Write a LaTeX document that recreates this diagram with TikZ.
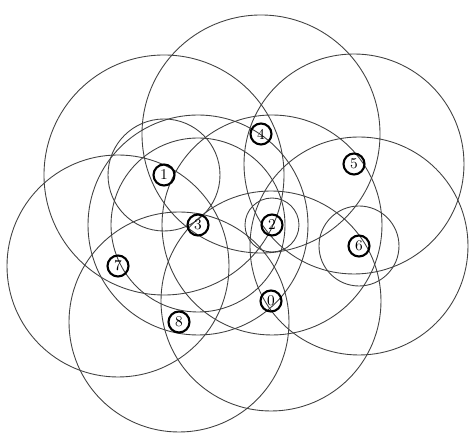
\documentclass[tikz,border=0pt]{standalone}
\begin{document}
\begin{tikzpicture}[x=0.02cm,y=-0.02cm,
  rangecirc/.style={draw=black!75,line width=0.5pt},
  sensor/.style={circle,draw=black,line width=1.2pt,minimum size=0.42cm,inner sep=0pt,font=\fontsize{8.5}{8.5}\selectfont}]
\useasboundingbox (0,0) rectangle (474,438);
% positions
\coordinate (p0) at (271,301);
\coordinate (p1) at (164,175);
\coordinate (p2) at (272,225);
\coordinate (p3) at (198,225);
\coordinate (p4) at (261,134);
\coordinate (p5) at (354,164);
\coordinate (p6) at (359,246);
\coordinate (p7) at (118,266);
\coordinate (p8) at (179,322);
% range circles
\draw[rangecirc] (p0) circle[radius=110];
\draw[rangecirc] (p1) circle[radius=120];
\draw[rangecirc] (p1) circle[radius=56];
\draw[rangecirc] (p2) circle[radius=110];
\draw[rangecirc] (p2) circle[radius=27];
\draw[rangecirc] (p3) circle[radius=110];
\draw[rangecirc] (p3) circle[radius=87];
\draw[rangecirc] (p4) circle[radius=119];
\draw[rangecirc] (p5) circle[radius=110];
\draw[rangecirc] (p6) circle[radius=109];
\draw[rangecirc] (p6) circle[radius=40];
\draw[rangecirc] (p7) circle[radius=111];
\draw[rangecirc] (p8) circle[radius=110];
% sensor nodes
\node[sensor] (n0) at (p0) {0};
\node[sensor] (n1) at (p1) {1};
\node[sensor] (n2) at (p2) {2};
\node[sensor] (n3) at (p3) {3};
\node[sensor] (n4) at (p4) {4};
\node[sensor] (n5) at (p5) {5};
\node[sensor] (n6) at (p6) {6};
\node[sensor] (n7) at (p7) {7};
\node[sensor] (n8) at (p8) {8};
\end{tikzpicture}
\end{document}
